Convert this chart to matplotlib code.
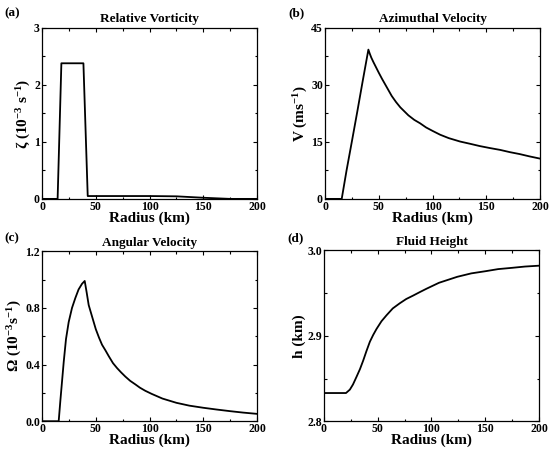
import numpy as np
import matplotlib
matplotlib.use("Agg")
import matplotlib.pyplot as plt
from matplotlib.ticker import MultipleLocator, FormatStrFormatter

plt.rcParams['font.family'] = ['Liberation Serif', 'DejaVu Serif']
plt.rcParams['font.weight'] = 'bold'
plt.rcParams['mathtext.fontset'] = 'custom'
plt.rcParams['mathtext.rm'] = 'Liberation Serif:bold'
plt.rcParams['mathtext.bf'] = 'Liberation Serif:bold'
plt.rcParams['mathtext.it'] = 'Liberation Serif:bold:italic'

# (a) relative vorticity, 10^-3 s^-1
r_a = [0, 14.5, 18, 38.5, 42.5, 100, 125, 150, 175, 200]
zeta = [0, 0, 2.38, 2.38, 0.05, 0.05, 0.045, 0.02, 0, 0]

# (b) azimuthal velocity, m/s
r_b = [0, 15.5, 20, 25, 30, 35, 40.3, 41.5, 43, 45, 47.5, 50, 53, 57, 62,
       66, 70, 77.5, 83, 88.4, 94, 100, 107, 115, 125.6, 135, 144, 153,
       162.8, 172, 181, 190, 200]
vel = [0, 0, 7.5, 15.2, 23, 31, 39.3, 38.3, 37.2, 36.0, 34.6, 33.2, 31.6,
       29.6, 27.1, 25.5, 24.1, 22.0, 20.8, 19.9, 18.8, 17.9, 16.9, 16.0,
       15.1, 14.5, 13.9, 13.4, 12.9, 12.3, 11.8, 11.2, 10.6]

# (c) angular velocity, 10^-3 s^-1
r_c = [0, 15.5, 17, 18.6, 20.2, 22.3, 24.8, 27.9, 31, 34, 37.2, 39.7, 41.5,
       43.4, 46.5, 50, 53, 55.8, 59, 62, 66, 69.8, 73.5, 77.5, 82, 86.8, 91,
       96, 102, 112, 125, 137, 150, 162, 175, 187, 200]
omega = [0, 0, 0.14, 0.28, 0.42, 0.58, 0.70, 0.80, 0.87, 0.93, 0.97, 0.99,
         0.91, 0.82, 0.74, 0.65, 0.59, 0.54, 0.50, 0.46, 0.41, 0.375, 0.345,
         0.315, 0.285, 0.26, 0.237, 0.215, 0.193, 0.16, 0.13, 0.11, 0.095,
         0.083, 0.071, 0.061, 0.052]

# (d) fluid height, km
r_d = [0, 20.5, 24.1, 27, 30.3, 33.5, 36.5, 39.5, 42.7, 45.8, 48.9, 53.5,
       58.2, 64, 70.5, 76.5, 82.9, 89, 95.3, 107, 124, 137, 150, 162, 175,
       187, 200]
height = [2.833, 2.833, 2.837, 2.843, 2.852, 2.861, 2.871, 2.882, 2.893,
          2.901, 2.908, 2.917, 2.924, 2.932, 2.938, 2.943, 2.947, 2.951,
          2.955, 2.962, 2.969, 2.973, 2.9755, 2.978, 2.9795, 2.981, 2.982]

panels = [
    ('(a)', 'Relative Vorticity', r_a, zeta, r'ζ (10$^{-3}$ s$^{-1}$)',
     (0, 3), 1, 0.5, '%d'),
    ('(b)', 'Azimuthal Velocity', r_b, vel, r'V (ms$^{-1}$)',
     (0, 45), 15, 7.5, '%d'),
    ('(c)', 'Angular Velocity', r_c, omega, r'Ω (10$^{-3}$s$^{-1}$)',
     (0, 1.2), 0.4, 0.2, '%.1f'),
    ('(d)', 'Fluid Height', r_d, height, 'h (km)',
     (2.8, 3.0), 0.1, 0.05, '%.1f'),
]
rects = [
    [0.0764, 0.559, 0.391, 0.379],
    [0.591, 0.559, 0.391, 0.379],
    [0.0764, 0.066, 0.391, 0.377],
    [0.589, 0.066, 0.391, 0.379],
]
tags = [(0.008, 0.965), (0.525, 0.965), (0.008, 0.465), (0.522, 0.465)]

fig = plt.figure(figsize=(5.5, 4.51), dpi=100)
for i, (tag, title, r, y, ylab, ylim, maj, mnr, fmt) in enumerate(panels):
    ax = fig.add_axes(rects[i])
    ax.plot(r, y, color='black', lw=1.3, solid_joinstyle='round')
    ax.set_xlim(0, 200)
    ax.set_ylim(*ylim)
    ax.xaxis.set_major_locator(MultipleLocator(50))
    ax.xaxis.set_minor_locator(MultipleLocator(25))
    ax.yaxis.set_major_locator(MultipleLocator(maj))
    ax.yaxis.set_minor_locator(MultipleLocator(mnr))
    ax.yaxis.set_major_formatter(FormatStrFormatter(fmt))
    ax.tick_params(which='both', direction='in', top=True, right=True,
                   labelsize=8.5, width=0.8, pad=1.5)
    ax.tick_params(which='major', length=3)
    ax.tick_params(which='minor', length=1.8)
    for s in ax.spines.values():
        s.set_linewidth(0.9)
    ax.set_title(title, fontsize=9.5, fontweight='bold', pad=4)
    ax.set_xlabel('Radius (km)', fontsize=11, fontweight='bold', labelpad=-1)
    ax.set_ylabel(ylab, fontsize=11, fontweight='bold', labelpad=1)
    fig.text(tags[i][0], tags[i][1], tag, fontsize=9.5, fontweight='bold')

fig.savefig('out.png', dpi=100)
